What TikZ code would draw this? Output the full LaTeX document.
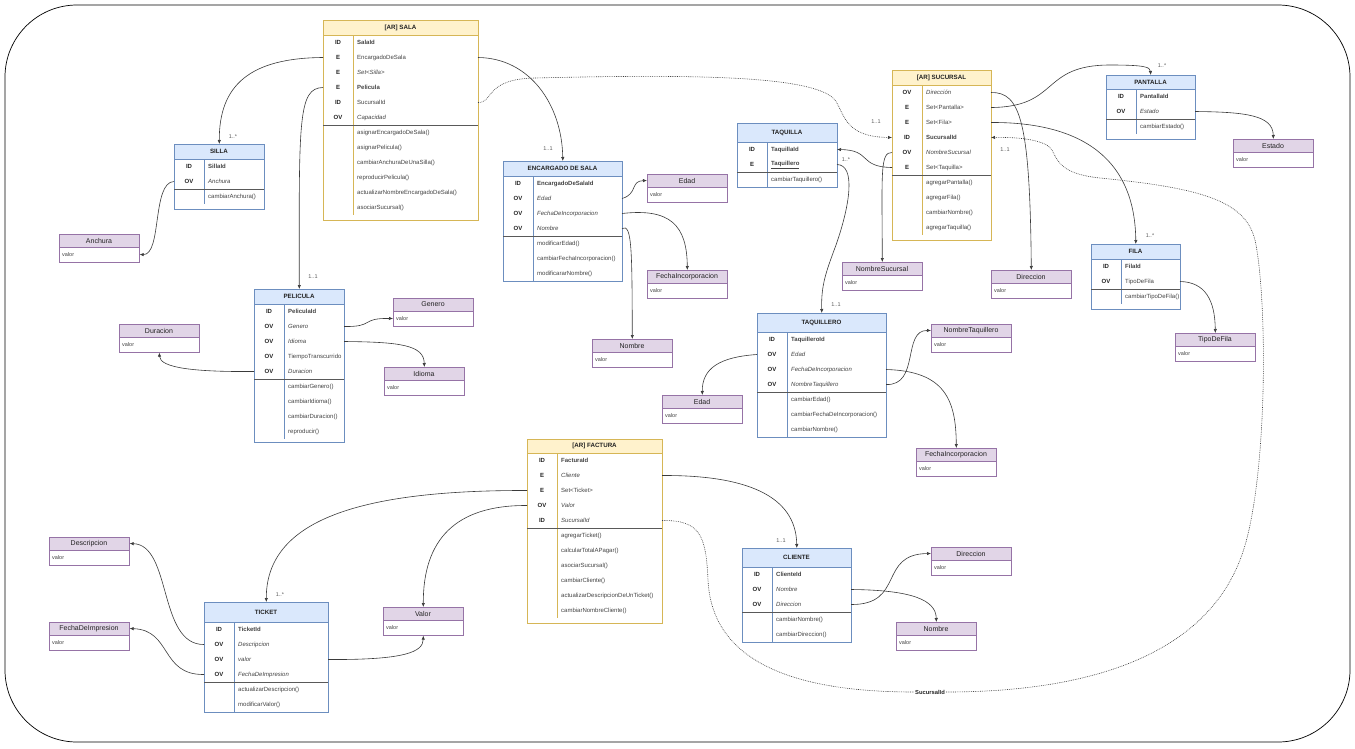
\documentclass[tikz,border=0pt]{standalone}
\usepackage{fontspec}
\setmainfont{Liberation Sans}
\usetikzlibrary{arrows.meta}
\definecolor{bluefill}{HTML}{DAE8FC}
\definecolor{blueline}{HTML}{6C8EBF}
\definecolor{yelfill}{HTML}{FFF2CC}
\definecolor{yelline}{HTML}{D6B656}
\definecolor{purfill}{HTML}{E1D5E7}
\definecolor{purline}{HTML}{9673A6}
\definecolor{txt}{HTML}{222222}
\definecolor{edge}{HTML}{3A3A3A}
\newcounter{nattr}\newcounter{nmeth}
\newcommand\entstb[1]{\textbf{#1}}
\newcommand\entsti[1]{\textit{#1}}
\newcommand\entstn[1]{#1}
\newcommand\entstu[1]{\textbf{\underline{#1}}}
\pgfkeys{/ent/.cd, hh/.store in=\enthh, pad/.store in=\entpad, hh=15, pad=5}
\tikzset{
  titlet/.style={font=\fontsize{6.2}{7}\selectfont\bfseries, text=txt, inner sep=0pt},
  keyt/.style={font=\fontsize{6}{7}\selectfont\bfseries, text=txt, inner sep=0pt},
  attrt/.style={font=\fontsize{6}{7}\selectfont, text=txt!85, inner sep=0pt, anchor=west},
  vtitle/.style={font=\fontsize{7}{8}\selectfont, text=txt, inner sep=0pt},
  vval/.style={font=\fontsize{5.5}{6}\selectfont, text=txt!85, inner sep=0pt, anchor=west},
  mult/.style={font=\fontsize{5.5}{6}\selectfont, text=txt!75, inner sep=0pt},
  conn/.style={draw=edge, line width=0.6pt, -{Latex[length=4pt,width=3.4pt]}},
  plainconn/.style={draw=edge, line width=0.6pt},
  dotconn/.style={draw=edge, line width=0.6pt, dash pattern=on 0.8pt off 1pt},
}
\newcommand\entity[9][]{%
  \pgfkeys{/ent/.cd,hh=15,pad=5,#1}%
  \setcounter{nattr}{0}\foreach \ka/\ta/\sa in {#8}{\stepcounter{nattr}}%
  \setcounter{nmeth}{0}\foreach \ma in {#9}{\stepcounter{nmeth}}%
  \pgfmathsetmacro\yhb{#4+\enthh}%
  \pgfmathsetmacro\ydiv{\yhb+15*\number\value{nattr}}%
  \pgfmathsetmacro\ylast{\ydiv+15*\number\value{nmeth}}%
  \pgfmathsetmacro\ybot{\ylast+\entpad}%
  \pgfmathsetmacro\xr{#3+#5}%
  \pgfmathsetmacro\xc{#3+30}%
  \pgfmathsetmacro\eh{\ybot-#4}%
  \node[draw=#7line, fill=white, line width=0.6pt, inner sep=0pt, minimum width=#5pt, minimum height=\eh pt, anchor=north west] (#2) at (#3,#4) {};
  \fill[#7fill] (#3,#4) rectangle (\xr,\yhb);
  \draw[#7line, line width=0.6pt] (#3,#4) rectangle (\xr,\ybot);
  \draw[#7line, line width=0.6pt] (#3,\yhb) -- (\xr,\yhb);
  \draw[#7line, line width=0.6pt] (\xc,\yhb) -- (\xc,\ylast);
  \draw[black!65, line width=0.8pt] (#3,\ydiv) -- (\xr,\ydiv);
  \node[titlet] (#2-h) at (#3+#5/2,#4+\enthh/2) {#6};
  \foreach \ka/\ta/\sa [count=\i] in {#8}{%
    \pgfmathsetmacro\yy{\yhb+15*\i-7.5}%
    \node[keyt] (#2-k\i) at (#3+15,\yy) {\ka};
    \node[attrt] (#2-a\i) at (\xc+4,\yy) {\csname entst\sa\endcsname{\ta}};
    \coordinate (#2-L\i) at (#3,\yy);
    \coordinate (#2-R\i) at (\xr,\yy);
  }%
  \foreach \ma [count=\i] in {#9}{%
    \pgfmathsetmacro\yy{\ydiv+15*\i-7.5}%
    \node[attrt] (#2-m\i) at (\xc+4,\yy) {\ma};
  }%
}
\newcommand\valbox[4]{%
  \node[draw=purline, fill=white, line width=0.6pt, inner sep=0pt, minimum width=80pt, minimum height=28pt, anchor=north west] (#1) at (#2,#3) {};
  \fill[purfill] (#2,#3) rectangle (#2+80,#3+13);
  \draw[purline, line width=0.6pt] (#2,#3) rectangle (#2+80,#3+28) (#2,#3+13) -- (#2+80,#3+13);
  \node[vtitle] (#1-t) at (#2+40,#3+6.5) {#4};
  \node[vval] (#1-v) at (#2+3,#3+20.5) {valor};
}
\begin{document}
\begin{tikzpicture}[x=1pt,y=-1pt]
\useasboundingbox (0,0) rectangle (1355,748);
\draw[black, line width=0.7pt, rounded corners=72pt] (5,5) rectangle (1350,742);

% ---------- entities ----------
\entity{silla}{174}{144}{90}{SILLA}{blue}{ID/SillaId/b, OV/Anchura/i}{cambiarAnchura()}
\entity{sala}{323}{20}{155}{[AR] SALA}{yel}{ID/SalaId/b, E/EncargadoDeSala/n, E/Set<Silla>/i, E/Pelicula/b, ID/SucursalId/n, OV/Capacidad/i}{asignarEncargadoDeSala(), asignarPelicula(), cambiarAnchuraDeUnaSilla(), reproducirPelicula(), actualizarNombreEncargadoDeSala(), asociarSucursal()}
\entity[pad=0]{enc}{503}{161}{119}{ENCARGADO DE SALA}{blue}{ID/EncargadoDeSalaId/b, OV/Edad/i, OV/FechaDeIncorporacion/i, OV/Nombre/i}{modificarEdad(), cambiarFechaIncorporacion(), modificararNombre()}
\entity[pad=3]{peli}{254}{289}{90}{PELICULA}{blue}{ID/PeliculaId/b, OV/Genero/i, OV/Idioma/i, OV/TiempoTranscurrido/n, OV/Duracion/i}{cambiarGenero(), cambiarIdioma(), cambiarDuracion(), reproducir()}
\entity[hh=19,pad=0]{taquilla}{737}{123}{100}{TAQUILLA}{blue}{ID/TaquillaId/b, E/Taquillero/u}{cambiarTaquillero()}
\entity{suc}{892}{70}{99}{[AR] SUCURSAL}{yel}{OV/Dirección/i, E/Set<Pantalla>/n, E/Set<Fila>/n, ID/SucursalId/b, OV/NombreSucursal/i, E/Set<Taquilla>/n}{agregarPantalla(), agregarFila(), cambiarNombre(), agregarTaquilla()}
\entity[hh=14]{pant}{1106}{75}{89}{PANTALLA}{blue}{ID/PantallaId/b, OV/Estado/i}{cambiarEstado()}
\entity{fila}{1091}{244}{89}{FILA}{blue}{ID/FilaId/b, OV/TipoDeFila/n}{cambiarTipoDeFila()}
\entity[hh=19,pad=0]{taqr}{757}{313}{129}{TAQUILLERO}{blue}{ID/TaquilleroId/b, OV/Edad/i, OV/FechaDeIncorporacion/i, OV/NombreTaquillero/i}{cambiarEdad(), cambiarFechaDeIncorporacion(), cambiarNombre()}
\entity[hh=14]{fact}{527}{439}{135}{[AR] FACTURA}{yel}{ID/FacturaId/b, E/Cliente/i, E/Set<Ticket>/n, OV/Valor/i, ID/SucursalId/i}{agregarTicket(), calcularTotalAPagar(), asociarSucursal(), cambiarCliente(), actualizarDescripcionDeUnTicket(), cambiarNombreCliente()}
\entity[hh=20,pad=0]{ticket}{204}{602}{124}{TICKET}{blue}{ID/TicketId/b, OV/Descripcion/i, OV/valor/i, OV/FechaDeImpresion/i}{actualizarDescripcion(), modificarValor()}
\entity[hh=19,pad=0]{cli}{742}{548}{109}{CLIENTE}{blue}{ID/ClienteId/b, OV/Nombre/i, OV/Direccion/i}{cambiarNombre(), cambiarDireccion()}

% ---------- value objects ----------
\valbox{vAnchura}{59}{234}{Anchura}
\valbox{vEdadA}{647}{174}{Edad}
\valbox{vFechaA}{647}{270}{FechaIncorporacion}
\valbox{vGenero}{393}{298}{Genero}
\valbox{vIdioma}{384}{367}{Idioma}
\valbox{vDuracion}{119}{324}{Duracion}
\valbox{vNombreA}{592}{339}{Nombre}
\valbox{vNomSuc}{842}{262}{NombreSucursal}
\valbox{vDirA}{991}{270}{Direccion}
\valbox{vNomTaq}{931}{324}{NombreTaquillero}
\valbox{vEdadB}{662}{395}{Edad}
\valbox{vFechaB}{916}{448}{FechaIncorporacion}
\valbox{vEstado}{1233}{139}{Estado}
\valbox{vTipo}{1175}{333}{TipoDeFila}
\valbox{vDesc}{49}{537}{Descripcion}
\valbox{vFechaImp}{49}{622}{FechaDeImpresion}
\valbox{vValor}{383}{607}{Valor}
\valbox{vDirB}{931}{547}{Direccion}
\valbox{vNombreB}{896}{622}{Nombre}

% ---------- associations ----------
\draw[conn] (sala-R2) .. controls (530,58) and (562,105) .. (enc.north);
\draw[conn] (sala-L2) .. controls (250,58) and (219,85) .. (silla.north);
\draw[conn] (sala-L4) .. controls (298,88) and (299,120) .. (peli.north);
\draw[conn] (suc-R2) .. controls (1060,107) and (1040,65) .. (1110,65) .. controls (1145,65) and (1150,67) .. (pant.north);
\draw[conn] (suc-R3) .. controls (1070,122) and (1135,150) .. (fila.north);
\draw[conn] (suc-R1) .. controls (1020,92) and (1030,120) .. (vDirA.north);
\draw[conn] (suc-L5) .. controls (880,152) and (882,172) .. (vNomSuc.north);
\draw[conn] (suc-L6) .. controls (858,167) and (872,150) .. (taquilla-R1);
\draw[conn] (taquilla-R2) .. controls (856,165) and (850,205) .. (836,245) .. controls (826,272) and (821,285) .. (taqr.north);
\draw[conn] (fact-R2) .. controls (745,475) and (796,495) .. (cli.north);
\draw[conn] (fact-L3) .. controls (360,490) and (266,520) .. (ticket.north);
\draw[conn] (fact-L4) .. controls (455,505) and (423,540) .. (vValor.north);

% dotted SucursalId references
\draw[dotconn, -{Latex[length=4pt,width=3.4pt]}] (sala-R5) .. controls (494,103) and (484,79) .. (535,78) .. controls (700,74) and (815,76) .. (835,100) .. controls (845,115) and (845,137) .. (suc-L4);
\node[font=\fontsize{5.8}{6}\selectfont\bfseries, text=txt, fill=white, inner sep=1pt] (lblsuc) at (930,692) {SucursalId};
\draw[dotconn] (fact-R5) .. controls (700,520) and (706,535) .. (708,580) .. controls (712,665) and (800,692) .. (lblsuc.west);
\draw[dotconn, -{Latex[length=4pt,width=3.4pt]}] (lblsuc.east) .. controls (1100,692) and (1205,650) .. (1240,560) .. controls (1268,490) and (1268,300) .. (1255,240) .. controls (1245,200) and (1200,188) .. (1100,178) .. controls (1062,174) and (1058,162) .. (1052,150) .. controls (1046,140) and (1020,137) .. (suc-R4);

% value-object links
\draw[conn] (silla-L2) .. controls (152,182) and (162,255) .. (vAnchura.east |- vAnchura-v);
\draw[conn] (enc-R2) .. controls (638,194) and (630,181) .. (vEdadA.west |- vEdadA-t);
\draw[conn] (enc-R3) .. controls (670,208) and (687,225) .. (vFechaA.north);
\draw[conn] (enc-R4) .. controls (632,223) and (632,250) .. (vNombreA.north);
\draw[conn] (peli-R2) .. controls (375,327) and (360,318) .. (vGenero.west |- vGenero-v);
\draw[conn] (peli-R3) .. controls (400,342) and (424,345) .. (vIdioma.north);
\draw[conn] (peli-L5) .. controls (195,372) and (160,368) .. (vDuracion.south);
\draw[conn] (pant-R2) .. controls (1245,112) and (1273,115) .. (vEstado.north);
\draw[conn] (fila-R2) .. controls (1205,282) and (1215,300) .. (vTipo.north);
\draw[conn] (taqr-L2) .. controls (720,357) and (702,368) .. (vEdadB.north);
\draw[conn] (taqr-R3) .. controls (945,371) and (956,400) .. (vFechaB.north);
\draw[conn] (taqr-R4) .. controls (920,386) and (902,330) .. (vNomTaq.west |- vNomTaq-t);
\draw[conn] (ticket-L2) .. controls (158,645) and (172,545) .. (vDesc.east |- vDesc-t);
\draw[conn] (ticket-L4) .. controls (160,675) and (172,630) .. (vFechaImp.east |- vFechaImp-t);
\draw[conn] (ticket-R3) .. controls (405,660) and (423,652) .. (vValor.south);
\draw[conn] (cli-R2) .. controls (912,590) and (936,600) .. (vNombreB.north);
\draw[conn] (cli-R3) .. controls (905,605) and (878,554) .. (vDirB.west |- vDirB-t);

% ---------- multiplicities ----------
\node[mult] (m1) at (233,137) {1..*};
\node[mult] (m2) at (548,149) {1..1};
\node[mult] (m3) at (313,277) {1..1};
\node[mult] (m4) at (876,122) {1..1};
\node[mult] (m5) at (846,160) {1..*};
\node[mult] (m6) at (1005,150) {1..1};
\node[mult] (m7) at (1162,66) {1..*};
\node[mult] (m8) at (1150,236) {1..*};
\node[mult] (m9) at (836,305) {1..1};
\node[mult] (m10) at (781,541) {1..1};
\node[mult] (m11) at (280,595) {1..*};
\end{tikzpicture}
\end{document}
